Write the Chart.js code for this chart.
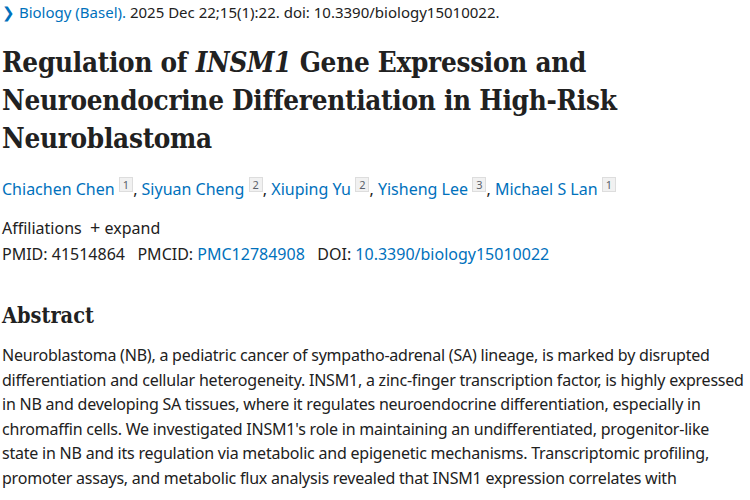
<!DOCTYPE html>
<html><head><meta charset="utf-8">
<script src="https://cdn.jsdelivr.net/npm/chart.js@4"></script>
<style>
html,body{margin:0;padding:0;background:#fff;width:750px;height:500px;overflow:hidden}
body{font-family:"Noto Sans","Open Sans",sans-serif;color:#212121;position:relative}
.a{position:absolute;left:2px;white-space:nowrap}
.link{color:#0071bc}
.src{top:2px;font-size:15px;color:#212121}
h1{position:absolute;left:2px;top:44px;margin:0;font-family:"DejaVu Serif",serif;font-weight:bold;font-size:27px;line-height:38px;color:#212121;letter-spacing:-0.3px;transform:scaleX(0.92);transform-origin:0 0;white-space:nowrap}
.au{top:177px;font-size:16px}
sup{display:inline-block;font-size:11px;color:#5b616b;background:#f1f1f1;border:1px solid #ddd;padding:0 3px;line-height:13px;vertical-align:6px}
.aff{top:215px;font-size:16px}
.pm{top:243px;font-size:16px}
h2{position:absolute;left:2px;top:302px;margin:0;font-family:"DejaVu Serif",serif;font-size:22px;font-weight:bold;color:#212121;transform:scaleX(0.88);transform-origin:0 0}
.body{position:absolute;left:2px;top:343px;font-size:16px;line-height:24.5px;white-space:nowrap;letter-spacing:-0.22px}
</style></head><body>
<div class="a src"><span class="link">&#x276F; Biology (Basel).</span> 2025 Dec 22;15(1):22. doi: 10.3390/biology15010022.</div>
<h1>Regulation of <i>INSM1</i> Gene Expression and<br>Neuroendocrine Differentiation in High-Risk<br>Neuroblastoma</h1>
<div class="a au"><span class="link">Chiachen Chen</span> <sup>1</sup>, <span class="link">Siyuan Cheng</span> <sup>2</sup>, <span class="link">Xiuping Yu</span> <sup>2</sup>, <span class="link">Yisheng Lee</span> <sup>3</sup>, <span class="link">Michael S Lan</span> <sup>1</sup></div>
<div class="a aff">Affiliations &nbsp;<span style="font-size:18px">+</span> expand</div>
<div class="a pm">PMID: 41514864 &nbsp;&nbsp;PMCID: <span class="link">PMC12784908</span> &nbsp;&nbsp;DOI: <span class="link">10.3390/biology15010022</span></div>
<h2>Abstract</h2>
<div class="body">Neuroblastoma (NB), a pediatric cancer of sympatho-adrenal (SA) lineage, is marked by disrupted<br>differentiation and cellular heterogeneity. INSM1, a zinc-finger transcription factor, is highly expressed<br>in NB and developing SA tissues, where it regulates neuroendocrine differentiation, especially in<br>chromaffin cells. We investigated INSM1's role in maintaining an undifferentiated, progenitor-like<br>state in NB and its regulation via metabolic and epigenetic mechanisms. Transcriptomic profiling,<br>promoter assays, and metabolic flux analysis revealed that INSM1 expression correlates with</div>
<canvas id="c" width="1" height="1" style="position:absolute;left:0;top:0;width:1px;height:1px"></canvas>
<script>
const categories=[];const values=[];
new Chart(document.getElementById('c'),{type:'bar',data:{labels:categories,datasets:[{data:values}]},options:{responsive:false,animation:false,plugins:{legend:{display:false}},scales:{x:{display:false},y:{display:false}}}});
</script>
</body></html>
